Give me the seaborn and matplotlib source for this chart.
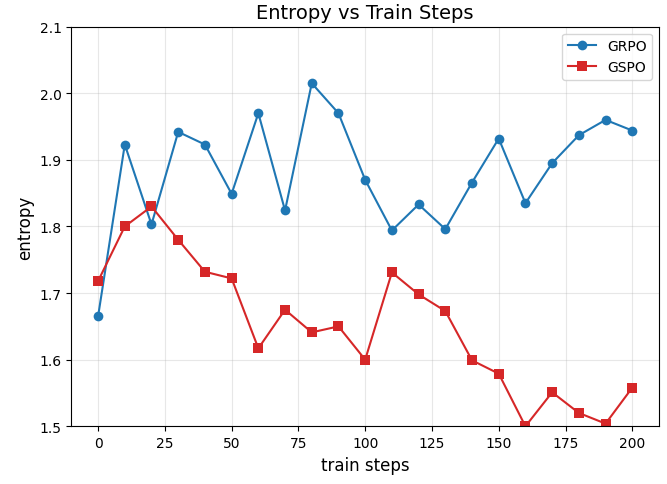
import seaborn as sns
import pandas as pd
import matplotlib
matplotlib.use("Agg")
import matplotlib.pyplot as plt

# data
steps = list(range(0, 201, 10))
grpo = [1.665, 1.923, 1.803, 1.942, 1.923, 1.849, 1.970, 1.824, 2.015, 1.970, 1.870,
        1.794, 1.833, 1.796, 1.866, 1.932, 1.835, 1.895, 1.937, 1.960, 1.944]
gspo = [1.718, 1.800, 1.830, 1.780, 1.732, 1.722, 1.617, 1.675, 1.641, 1.650, 1.600,
        1.731, 1.698, 1.673, 1.599, 1.579, 1.500, 1.551, 1.520, 1.504, 1.558]

df = pd.concat([
    pd.DataFrame({"step": steps, "entropy": grpo, "method": "GRPO"}),
    pd.DataFrame({"step": steps, "entropy": gspo, "method": "GSPO"}),
])

fig, ax = plt.subplots(figsize=(6.67, 4.85), dpi=100)
sns.lineplot(data=df, x="step", y="entropy", hue="method", style="method",
             markers={"GRPO": "o", "GSPO": "s"}, dashes=False,
             palette={"GRPO": "#1f77b4", "GSPO": "#d62728"},
             markersize=7, markeredgewidth=0, linewidth=1.5, ax=ax)

ax.set_xlim(-10, 210)
ax.set_ylim(1.5, 2.1)
ax.set_xlabel("train steps", fontsize=12)
ax.set_ylabel("entropy", fontsize=12)
ax.set_title("Entropy vs Train Steps", fontsize=14)
ax.grid(True, alpha=0.3)
ax.legend(title=None, loc="upper right")

fig.subplots_adjust(left=0.107, right=0.988, bottom=0.119, top=0.943)
plt.savefig("out.png", dpi=100)
